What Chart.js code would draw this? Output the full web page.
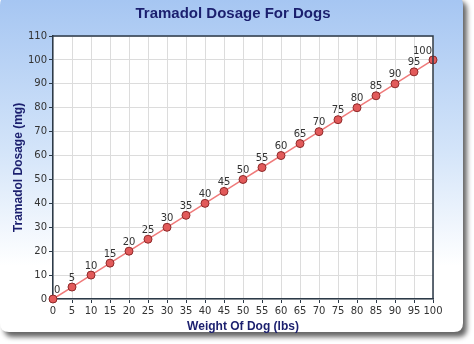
<!DOCTYPE html>
<html><head><meta charset="utf-8">
<script src="https://cdn.jsdelivr.net/npm/chart.js@4"></script>
<style>html,body{margin:0;padding:0;background:#fff;}canvas{display:block;}</style>
</head><body>
<canvas id="c" width="474" height="344"></canvas>
<script>
const weights = [0,5,10,15,20,25,30,35,40,45,50,55,60,65,70,75,80,85,90,95,100];
const dosage  = [0,5,10,15,20,25,30,35,40,45,50,55,60,65,70,75,80,85,90,95,100];
const titleText = 'Tramadol Dosage For Dogs';
const xTitle = 'Weight Of Dog (lbs)';
const yTitle = 'Tramadol Dosage (mg)';
const FONT = "'DejaVu Sans', Verdana, sans-serif";
const BFONT = "'Liberation Sans', Arial, sans-serif";
const NAVY = '#1b1f6e';

const bgPlugin = {
  id: 'bg',
  beforeDraw(chart) {
    const ctx = chart.ctx;
    const W = 463, H = 332, r = 9;
    function rr(x, y, w, h) {
      ctx.beginPath();
      ctx.moveTo(x + r, y);
      ctx.lineTo(x + w - r, y);
      ctx.quadraticCurveTo(x + w, y, x + w, y + r);
      ctx.lineTo(x + w, y + h - r);
      ctx.quadraticCurveTo(x + w, y + h, x + w - r, y + h);
      ctx.lineTo(x + r, y + h);
      ctx.quadraticCurveTo(x, y + h, x, y + h - r);
      ctx.lineTo(x, y + r);
      ctx.quadraticCurveTo(x, y, x + r, y);
      ctx.closePath();
    }
    ctx.save();
    ctx.fillStyle = '#fff';
    ctx.fillRect(0, 0, 474, 344);
    ctx.shadowColor = 'rgba(0,0,0,0.6)';
    ctx.shadowBlur = 5;
    ctx.shadowOffsetX = 4;
    ctx.shadowOffsetY = 5;
    rr(0, -4, W, H + 4);
    const g = ctx.createLinearGradient(0, 0, 0, H);
    g.addColorStop(0, '#a6c6f2');
    g.addColorStop(0.45, '#d3e4f9');
    g.addColorStop(0.8, '#ffffff');
    g.addColorStop(1, '#ffffff');
    ctx.fillStyle = g;
    ctx.fill();
    ctx.restore();
    const a = chart.chartArea;
    ctx.save();
    ctx.fillStyle = '#ffffff';
    ctx.fillRect(a.left, a.top, a.right - a.left, a.bottom - a.top);
    ctx.fillStyle = NAVY;
    ctx.font = 'bold 15px ' + BFONT;
    ctx.textAlign = 'center';
    ctx.textBaseline = 'middle';
    ctx.fillText(titleText, 233, 14);
    ctx.restore();
  },
  afterDatasetsDraw(chart) {
    const ctx = chart.ctx;
    const a = chart.chartArea;
    ctx.save();
    ctx.strokeStyle = '#2c3a48';
    ctx.lineWidth = 1.5;
    ctx.beginPath();
    ctx.moveTo(a.left, a.top);
    ctx.lineTo(a.right, a.top);
    ctx.lineTo(a.right, a.bottom);
    ctx.stroke();
    const meta = chart.getDatasetMeta(0);
    ctx.font = '10px ' + FONT;
    ctx.fillStyle = '#333';
    ctx.textAlign = 'center';
    ctx.textBaseline = 'bottom';
    meta.data.forEach((p, i) => {
      const t = String(dosage[i]);
      const w = ctx.measureText(t).width;
      let x = p.x;
      if (x - w / 2 < a.left + 1) x = a.left + 1 + w / 2;
      if (x + w / 2 > a.right - 1) x = a.right - 1 - w / 2;
      ctx.fillText(t, x, p.y - 4);
    });
    ctx.restore();
  }
};

new Chart(document.getElementById('c'), {
  type: 'line',
  data: {
    labels: weights,
    datasets: [{
      data: weights.map((w, i) => ({ x: w, y: dosage[i] })),
      borderColor: '#ef7a7a',
      borderWidth: 1.5,
      pointRadius: 4,
      pointBackgroundColor: '#e25a5a',
      pointBorderColor: '#8e2a2a',
      pointBorderWidth: 1,
      tension: 0,
      clip: false
    }]
  },
  options: {
    responsive: false,
    animation: false,
    devicePixelRatio: 1,
    layout: { padding: { top: 36, right: 41, left: 0, bottom: 0 } },
    plugins: { legend: { display: false }, title: { display: false }, tooltip: { enabled: false } },
    scales: {
      x: {
        type: 'linear', min: 0, max: 100,
        afterFit(s) { s.height = 45; },
        ticks: { stepSize: 5, color: '#333', font: { family: FONT, size: 10 }, padding: 2, maxRotation: 0, autoSkip: false },
        grid: { color: '#dcdcdc', tickColor: '#2c3a48', tickLength: 4, lineWidth: 1 },
        border: { color: '#2c3a48', width: 1.5 },
        title: { display: true, text: xTitle, color: NAVY, font: { family: BFONT, size: 12, weight: 'bold' }, padding: { top: 2, bottom: 10 } }
      },
      y: {
        min: 0, max: 110,
        afterFit(s) { s.width = 53; },
        ticks: { stepSize: 10, color: '#333', font: { family: FONT, size: 10 }, padding: 2 },
        grid: { color: '#dcdcdc', tickColor: '#2c3a48', tickLength: 4, lineWidth: 1 },
        border: { color: '#2c3a48', width: 1.5 },
        title: { display: true, text: yTitle, color: NAVY, font: { family: BFONT, size: 12, weight: 'bold' }, padding: { top: 11, bottom: 4 } }
      }
    }
  },
  plugins: [bgPlugin]
});
</script>
</body></html>
